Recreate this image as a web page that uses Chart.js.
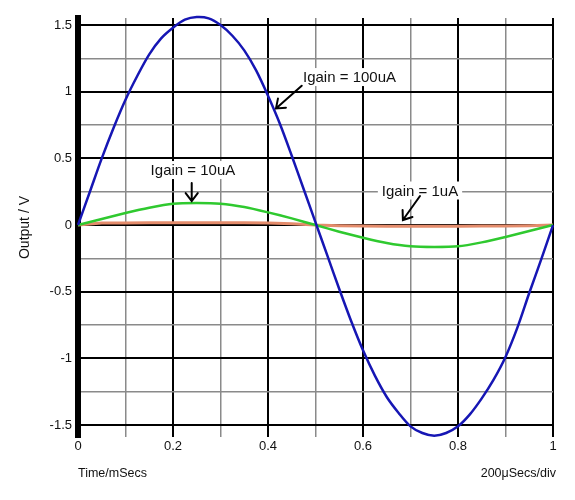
<!DOCTYPE html>
<html>
<head>
<meta charset="utf-8">
<script src="https://cdn.jsdelivr.net/npm/chart.js@4/dist/chart.umd.min.js"></script>
<style>
html,body{margin:0;padding:0;background:#fff;}
#wrap{width:575px;height:500px;position:relative;}
</style>
</head>
<body>
<div id="wrap"><canvas id="c" width="575" height="500"></canvas></div>
<script>
const seriesNames = ['Igain = 100uA', 'Igain = 10uA', 'Igain = 1uA'];
const timeFine = [0,0.025,0.05,0.075,0.1,0.125,0.15,0.175,0.2,0.225,0.25,0.275,0.3,0.325,0.35,0.375,0.4,0.425,0.45,0.475,0.5,0.525,0.55,0.575,0.6,0.625,0.65,0.675,0.7,0.725,0.75,0.775,0.8,0.825,0.85,0.875,0.9,0.925,0.95,0.975,1];
const output100uA = [0,0.25,0.50,0.73,0.94,1.12,1.28,1.40,1.48,1.54,1.56,1.55,1.50,1.42,1.31,1.16,0.97,0.76,0.52,0.27,0.02,-0.23,-0.48,-0.72,-0.94,-1.13,-1.29,-1.41,-1.51,-1.56,-1.58,-1.56,-1.51,-1.42,-1.30,-1.16,-0.99,-0.77,-0.51,-0.26,0];
const timeCoarse = [0,0.05,0.1,0.15,0.2,0.25,0.3,0.35,0.4,0.45,0.5,0.55,0.6,0.65,0.7,0.75,0.8,0.85,0.9,0.95,1];
const output10uA = [0,0.045,0.09,0.13,0.16,0.165,0.16,0.135,0.095,0.05,0,-0.05,-0.095,-0.135,-0.16,-0.165,-0.16,-0.13,-0.09,-0.045,0];
const output1uA = [0,0.015,0.015,0.017,0.017,0.018,0.017,0.017,0.015,0.01,0,-0.005,-0.008,-0.01,-0.01,-0.01,-0.01,-0.008,-0.007,-0.005,0];
const xTickLabels = ['0','0.2','0.4','0.6','0.8','1'];
const yTickLabels = ['-1.5','-1','-0.5','0','0.5','1','1.5'];
const xAxisTitle = 'Time/mSecs';
const xAxisNote = '200\u03bcSecs/div';
const yAxisTitle = 'Output / V';

const FONT = '"Liberation Sans", Arial, Helvetica, sans-serif';
const fmt = v => String(Math.round(v * 100) / 100);
const toPts = (xs, ys) => xs.map((t, i) => ({x: t, y: ys[i]}));

const annotations = [
  {text: seriesNames[0], tx: 0.4737, ty: 1.11, align: 'left', from: [0.471, 1.045], to: [0.4168, 0.875]},
  {text: seriesNames[1], tx: 0.242, ty: 0.4125, align: 'center', from: [0.2394, 0.315], to: [0.2394, 0.18]},
  {text: seriesNames[2], tx: 0.72, ty: 0.259, align: 'center', from: [0.72, 0.2175], to: [0.684, 0.0375]}
];

const annotPlugin = {
  id: 'annot',
  afterDatasetsDraw(chart) {
    const {ctx, scales: {x, y}} = chart;
    ctx.save();
    ctx.font = '15px ' + FONT;
    ctx.textBaseline = 'middle';
    annotations.forEach(a => {
      const tx = x.getPixelForValue(a.tx), ty = y.getPixelForValue(a.ty);
      const w = ctx.measureText(a.text).width;
      const left = a.align === 'left' ? tx : (a.align === 'center' ? tx - w / 2 : tx - w);
      ctx.fillStyle = '#ffffff';
      ctx.fillRect(left - 4, ty - 9, w + 8, 18);
      ctx.fillStyle = '#111';
      ctx.textAlign = 'left';
      ctx.fillText(a.text, left, ty + 1);
      const x0 = x.getPixelForValue(a.from[0]), y0 = y.getPixelForValue(a.from[1]);
      const x1 = x.getPixelForValue(a.to[0]), y1 = y.getPixelForValue(a.to[1]);
      ctx.strokeStyle = '#000';
      ctx.lineWidth = 2;
      ctx.lineCap = 'round';
      ctx.beginPath();
      ctx.moveTo(x0, y0); ctx.lineTo(x1, y1);
      const ang = Math.atan2(y0 - y1, x0 - x1);
      const L = 10, da = 0.65;
      ctx.moveTo(x1 + L * Math.cos(ang + da), y1 + L * Math.sin(ang + da));
      ctx.lineTo(x1, y1);
      ctx.lineTo(x1 + L * Math.cos(ang - da), y1 + L * Math.sin(ang - da));
      ctx.stroke();
    });
    ctx.font = '12.5px ' + FONT;
    ctx.fillStyle = '#111';
    ctx.textAlign = 'right';
    ctx.textBaseline = 'middle';
    ctx.fillText(xAxisNote, 556, 473.5);
    ctx.restore();
  }
};

new Chart(document.getElementById('c'), {
  type: 'line',
  data: {
    datasets: [
      {label: seriesNames[0], data: toPts(timeFine, output100uA), borderColor: '#1616b4', borderWidth: 2.5, pointRadius: 0, tension: 0.3, fill: false, clip: 6},
      {label: seriesNames[1], data: toPts(timeCoarse, output10uA), borderColor: '#2fc92f', borderWidth: 2.5, pointRadius: 0, tension: 0.2, fill: false, clip: 6},
      {label: seriesNames[2], data: toPts(timeCoarse, output1uA), borderColor: '#e48c6c', borderWidth: 3, pointRadius: 0, tension: 0, fill: false, clip: 6}
    ]
  },
  options: {
    responsive: false,
    animation: false,
    layout: {padding: {left: 0, top: 18, right: 22, bottom: 0}},
    plugins: {legend: {display: false}, tooltip: {enabled: false}},
    scales: {
      x: {
        type: 'linear', min: 0, max: 1,
        afterFit(s) { s.height = 63; },
        border: {display: false},
        grid: {
          drawTicks: false,
          color: c => (c.tick && xTickLabels.includes(fmt(c.tick.value))) ? '#000' : '#8a8a8a',
          lineWidth: c => (c.tick && xTickLabels.includes(fmt(c.tick.value))) ? 2 : 1.5
        },
        ticks: {
          stepSize: 0.1, autoSkip: false, maxRotation: 0, padding: 2, color: '#111',
          font: {size: 13, family: FONT},
          callback: v => xTickLabels.includes(fmt(v)) ? fmt(v) : ''
        },
        title: {display: true, text: xAxisTitle, align: 'start', color: '#111', font: {size: 12.5, family: FONT}, padding: {top: 0, bottom: 19}}
      },
      y: {
        type: 'linear', min: -1.59, max: 1.553,
        afterFit(s) { s.width = 78; },
        border: {display: true, color: '#000', width: 6},
        grid: {
          drawTicks: false,
          color: c => (c.tick && yTickLabels.includes(fmt(c.tick.value))) ? '#000' : '#8a8a8a',
          lineWidth: c => (c.tick && yTickLabels.includes(fmt(c.tick.value))) ? 2 : 1.5
        },
        ticks: {
          stepSize: 0.25, includeBounds: false, autoSkip: false, padding: 6, color: '#111',
          font: {size: 13, family: FONT},
          callback: v => yTickLabels.includes(fmt(v)) ? fmt(v) : ''
        },
        title: {display: true, text: yAxisTitle, color: '#111', font: {size: 14, family: FONT}, padding: {top: 16.5, bottom: 0}}
      }
    }
  },
  plugins: [annotPlugin]
});
</script>
</body>
</html>
